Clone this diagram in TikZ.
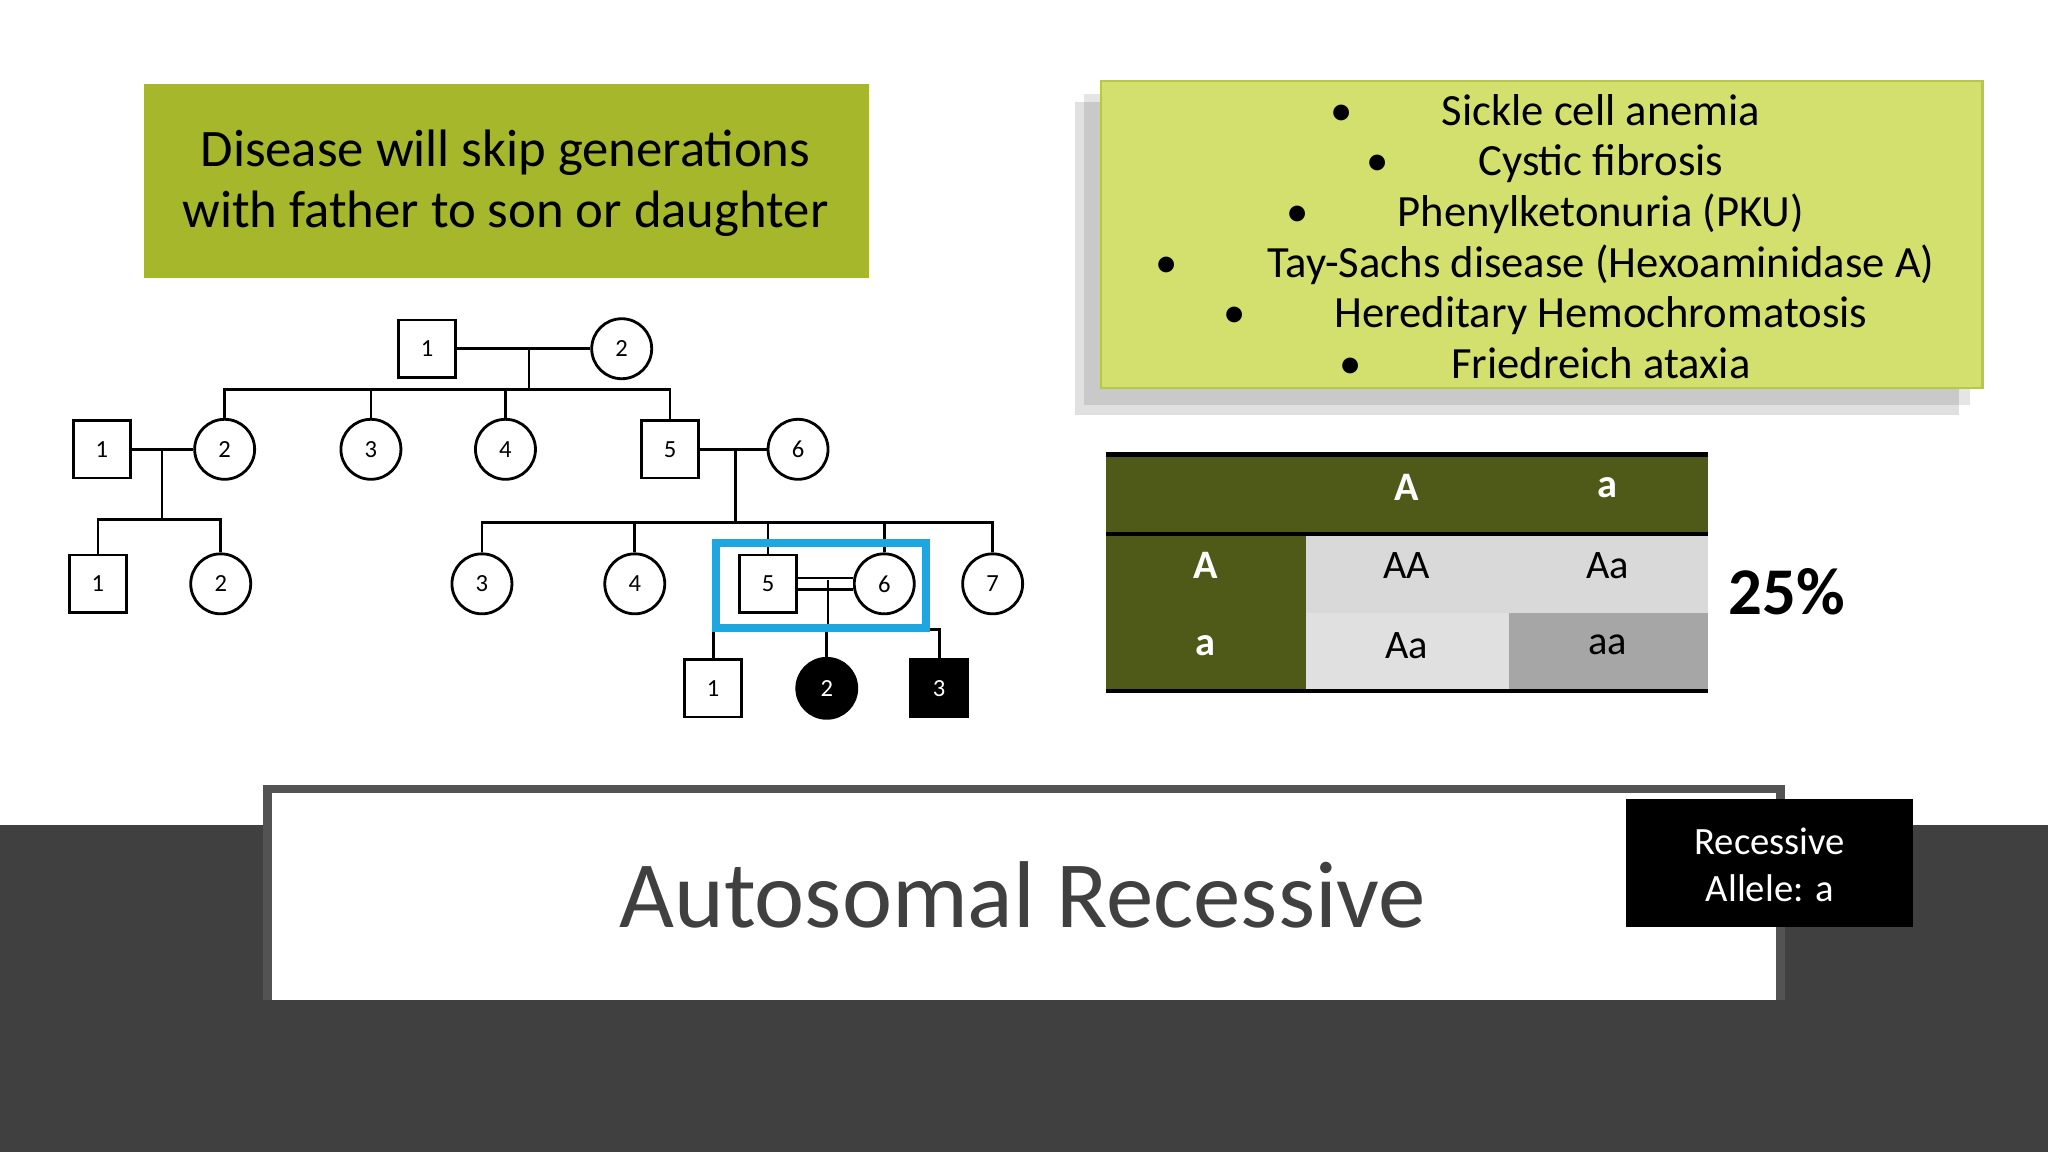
\documentclass[tikz,border=0pt]{standalone}
\usepackage{fontspec}
\setmainfont{Carlito}
\definecolor{boxgreen}{RGB}{166,183,43}
\definecolor{lightgreen}{RGB}{212,224,110}
\definecolor{olive}{RGB}{80,90,24}
\definecolor{cellgray}{RGB}{217,217,217}
\definecolor{cellgrayb}{RGB}{224,224,224}
\definecolor{darkcell}{RGB}{166,166,166}
\definecolor{band}{RGB}{64,64,64}
\definecolor{pickblue}{RGB}{30,166,224}
\begin{document}
\begin{tikzpicture}[x=0.013061cm,y=-0.013061cm,
  male/.style={draw,thick,rectangle,minimum size=0.575cm,inner sep=0pt,font=\fontsize{7}{8}\selectfont},
  female/.style={draw,thick,circle,minimum size=0.6cm,inner sep=0pt,font=\fontsize{7}{8}\selectfont},
  ill/.style={fill=black,text=white},
  line/.style={thick},
  head/.style={text=white,font=\fontsize{11.5}{13}\selectfont\bfseries},
  cell/.style={font=\fontsize{11.5}{13}\selectfont}]
\useasboundingbox (0,0) rectangle (1568,882);
% background
\fill[band] (0,632) rectangle (1568,882);
% info boxes
\fill[boxgreen] (110,64) rectangle (665,213);
\node[align=center,font=\fontsize{15}{17.4}\selectfont] (skip) at (387,140)
  {Disease will skip generations\\with father to son or daughter};
\fill[black,opacity=.12] (823,78) rectangle (1500,318);
\fill[black,opacity=.10] (830,72) rectangle (1508,310);
\fill[lightgreen] (843,62) rectangle (1518,297);
\draw[boxgreen!60!lightgreen,thick] (843,62) rectangle (1518,297);
\node[align=center,font=\fontsize{12.7}{14.4}\selectfont] (list) at (1183,181)
  {•\hspace{2em}Sickle cell anemia\\
   •\hspace{2em}Cystic fibrosis\\
   •\hspace{2em}Phenylketonuria (PKU)\\
   •\hspace{2em}Tay-Sachs disease (Hexoaminidase A)\\
   •\hspace{2em}Hereditary Hemochromatosis\\
   •\hspace{2em}Friedreich ataxia};
% punnett square
\fill[olive] (847,348) rectangle (1308,409);
\fill[olive] (847,409) rectangle (1000,529);
\fill[cellgray] (1000,409) rectangle (1308,469);
\fill[cellgrayb] (1000,469) rectangle (1155,529);
\fill[darkcell] (1155,469) rectangle (1308,529);
\draw[line width=1.2pt] (847,348) -- (1308,348) (847,409) -- (1308,409) (847,529) -- (1308,529);
\node[head] (hA) at (1077,373) {A};
\node[head] (ha) at (1231,373) {a};
\node[head] (vA) at (923,433) {A};
\node[head] (va) at (923,494) {a};
\node[cell] (AA) at (1077,433) {AA};
\node[cell] (Aa1) at (1231,433) {Aa};
\node[cell] (Aa2) at (1077,494) {Aa};
\node[cell] (aa) at (1231,494) {aa};
\node[font=\fontsize{19}{22}\selectfont\bfseries] (pct) at (1368,453) {25\%};
% pedigree
\node[male] (I1) at (327,267) {1};
\node[female] (I2) at (476,267) {2};
\node[male] (II1) at (78,344) {1};
\node[female] (II2) at (172,344) {2};
\node[female] (II3) at (284,344) {3};
\node[female] (II4) at (387,344) {4};
\node[male] (II5) at (513,344) {5};
\node[female] (II6) at (611,344) {6};
\node[male] (III1) at (75,447) {1};
\node[female] (III2) at (169,447) {2};
\node[female] (III3) at (369,447) {3};
\node[female] (III4) at (486,447) {4};
\node[male] (III5) at (588,447) {5};
\node[female] (III6) at (677,447) {6};
\node[female] (III7) at (760,447) {7};
\node[male] (IV1) at (546,527) {1};
\node[female,ill] (IV2) at (633,527) {2};
\node[male,ill] (IV3) at (719,527) {3};
\coordinate (mI) at (405,267);
\coordinate (sI) at (405,298);
\coordinate (mA) at (124,344);
\coordinate (sA) at (124,398);
\coordinate (mB) at (563,344);
\coordinate (sB) at (563,400);
\coordinate (mC) at (634,444);
\coordinate (sC) at (634,482);
\draw[line] (I1) -- (I2);
\draw[line] (mI) -- (sI);
\draw[line] (II2.north) |- (sI) -| (II5.north);
\draw[line] (II3.north) -- (II3.north|-sI);
\draw[line] (II4.north) -- (II4.north|-sI);
\draw[line] (II1) -- (II2);
\draw[line] (mA) -- (sA);
\draw[line] (III1.north) |- (sA) -| (III2.north);
\draw[line] (II5) -- (II6);
\draw[line] (mB) -- (sB);
\draw[line] (III3.north) |- (sB) -| (III7.north);
\foreach \n in {III4,III5,III6}
  \draw[line] (\n.north) -- (\n.north|-sB);
\draw[line,double,double distance=2.5pt] (III5) -- (III6);
\draw[line] (mC) -- (sC);
\draw[line] (IV1.north) |- (sC) -| (IV3.north);
\draw[line] (IV2.north) -- (IV2.north|-sC);
\draw[pickblue,line width=2.2pt] (548,416) rectangle (709,481);
% title
\fill[white] (205,603) rectangle (1363,766);
\draw[band!90,line width=2.5pt] (205,766) -- (205,604) -- (1363,604) -- (1363,766);
\node[text=band,font=\fontsize{27}{30}\selectfont] (title) at (783,685) {Autosomal Recessive};
\fill[black] (1245,612) rectangle (1465,710);
\node[text=white,align=center,font=\fontsize{11}{13.3}\selectfont] (allele) at (1355,662) {Recessive\\Allele: a};
\end{tikzpicture}
\end{document}
